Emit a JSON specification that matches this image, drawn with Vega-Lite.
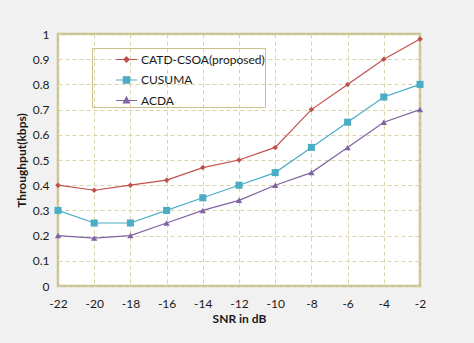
{
  "$schema": "https://vega.github.io/schema/vega-lite/v6.json",
  "width": 362,
  "height": 252,
  "autosize": {"type": "none"},
  "padding": {"left": 58, "top": 34, "right": 54, "bottom": 57},
  "background": "#f1f1f1",
  "config": {
    "font": "Lato",
    "view": {"fill": "white", "stroke": "#c9c28f", "strokeWidth": 2.5},
    "axis": {
      "labelFont": "Lato",
      "labelFontSize": 12,
      "labelColor": "#1a1a1a",
      "labelFlush": false,
      "titleFont": "Lato",
      "titleFontSize": 12,
      "titleFontWeight": "bold",
      "titleColor": "#1a1a1a",
      "grid": true,
      "gridColor": "#d9d2aa",
      "gridDash": [4, 3],
      "gridWidth": 1,
      "domain": false,
      "ticks": false
    }
  },
  "data": {
    "values": [
      {"snr": -22, "series": "CATD-CSOA(proposed)", "t": 0.40},
      {"snr": -20, "series": "CATD-CSOA(proposed)", "t": 0.38},
      {"snr": -18, "series": "CATD-CSOA(proposed)", "t": 0.40},
      {"snr": -16, "series": "CATD-CSOA(proposed)", "t": 0.42},
      {"snr": -14, "series": "CATD-CSOA(proposed)", "t": 0.47},
      {"snr": -12, "series": "CATD-CSOA(proposed)", "t": 0.50},
      {"snr": -10, "series": "CATD-CSOA(proposed)", "t": 0.55},
      {"snr": -8, "series": "CATD-CSOA(proposed)", "t": 0.70},
      {"snr": -6, "series": "CATD-CSOA(proposed)", "t": 0.80},
      {"snr": -4, "series": "CATD-CSOA(proposed)", "t": 0.90},
      {"snr": -2, "series": "CATD-CSOA(proposed)", "t": 0.98},
      {"snr": -22, "series": "CUSUMA", "t": 0.30},
      {"snr": -20, "series": "CUSUMA", "t": 0.25},
      {"snr": -18, "series": "CUSUMA", "t": 0.25},
      {"snr": -16, "series": "CUSUMA", "t": 0.30},
      {"snr": -14, "series": "CUSUMA", "t": 0.35},
      {"snr": -12, "series": "CUSUMA", "t": 0.40},
      {"snr": -10, "series": "CUSUMA", "t": 0.45},
      {"snr": -8, "series": "CUSUMA", "t": 0.55},
      {"snr": -6, "series": "CUSUMA", "t": 0.65},
      {"snr": -4, "series": "CUSUMA", "t": 0.75},
      {"snr": -2, "series": "CUSUMA", "t": 0.80},
      {"snr": -22, "series": "ACDA", "t": 0.20},
      {"snr": -20, "series": "ACDA", "t": 0.19},
      {"snr": -18, "series": "ACDA", "t": 0.20},
      {"snr": -16, "series": "ACDA", "t": 0.25},
      {"snr": -14, "series": "ACDA", "t": 0.30},
      {"snr": -12, "series": "ACDA", "t": 0.34},
      {"snr": -10, "series": "ACDA", "t": 0.40},
      {"snr": -8, "series": "ACDA", "t": 0.45},
      {"snr": -6, "series": "ACDA", "t": 0.55},
      {"snr": -4, "series": "ACDA", "t": 0.65},
      {"snr": -2, "series": "ACDA", "t": 0.70}
    ]
  },
  "encoding": {
    "x": {
      "field": "snr", "type": "quantitative",
      "scale": {"domain": [-22, -2], "nice": false, "zero": false},
      "axis": {"values": [-22, -20, -18, -16, -14, -12, -10, -8, -6, -4, -2], "labelExpr": "'' + datum.value", "title": "SNR in dB", "labelPadding": 12, "titlePadding": 4}
    },
    "y": {
      "field": "t", "type": "quantitative",
      "scale": {"domain": [0, 1], "nice": false},
      "axis": {"values": [0, 0.1, 0.2, 0.3, 0.4, 0.5, 0.6, 0.7, 0.8, 0.9, 1], "format": "~g", "title": "Throughput(kbps)", "labelPadding": 9, "titlePadding": 4}
    },
    "color": {
      "field": "series", "type": "nominal",
      "scale": {"domain": ["CATD-CSOA(proposed)", "CUSUMA", "ACDA"], "range": ["#c0504d", "#4bacc6", "#8064a2"]},
      "legend": {
        "title": null, "orient": "none", "legendX": 34, "legendY": 14,
        "strokeColor": "#c9c28f", "padding": 0, "labelFont": "Lato", "labelFontSize": 12,
        "labelColor": "#1a1a1a", "rowPadding": 2.5, "symbolSize": 440, "symbolOffset": 23, "labelOffset": 3,
        "labelExpr": "datum.label + '\u00a0\u00a0\u00a0\u00a0\u00a0\u00a0\u00a0\u00a0'",
        "encode": {
          "symbols": {
            "update": {
              "shape": {"signal": "datum.value === 'CUSUMA' ? 'M-1,0H1M-0.3,-0.3H0.3V0.3H-0.3Z' : datum.value === 'ACDA' ? 'M-1,0H1M0,-0.32L0.3,0.24H-0.3Z' : 'M-1,0H1M0,-0.25L0.25,0L0,0.25L-0.25,0Z'"},
              "fill": {"scale": "color", "field": "value"},
              "stroke": {"scale": "color", "field": "value"},
              "strokeWidth": {"value": 1.2},
              "opacity": {"value": 1}
            }
          }
        }
      }
    }
  },
  "layer": [
    {
      "mark": {"type": "line", "strokeWidth": 1.2}
    },
    {
      "mark": {"type": "point", "filled": true, "opacity": 1},
      "encoding": {
        "shape": {
          "condition": [
            {"test": "datum.series === 'CUSUMA'", "value": "square"},
            {"test": "datum.series === 'ACDA'", "value": "triangle-up"}
          ],
          "value": "diamond"
        },
        "size": {
          "condition": [
            {"test": "datum.series === 'CUSUMA'", "value": 50},
            {"test": "datum.series === 'ACDA'", "value": 40}
          ],
          "value": 30
        }
      }
    }
  ]
}
